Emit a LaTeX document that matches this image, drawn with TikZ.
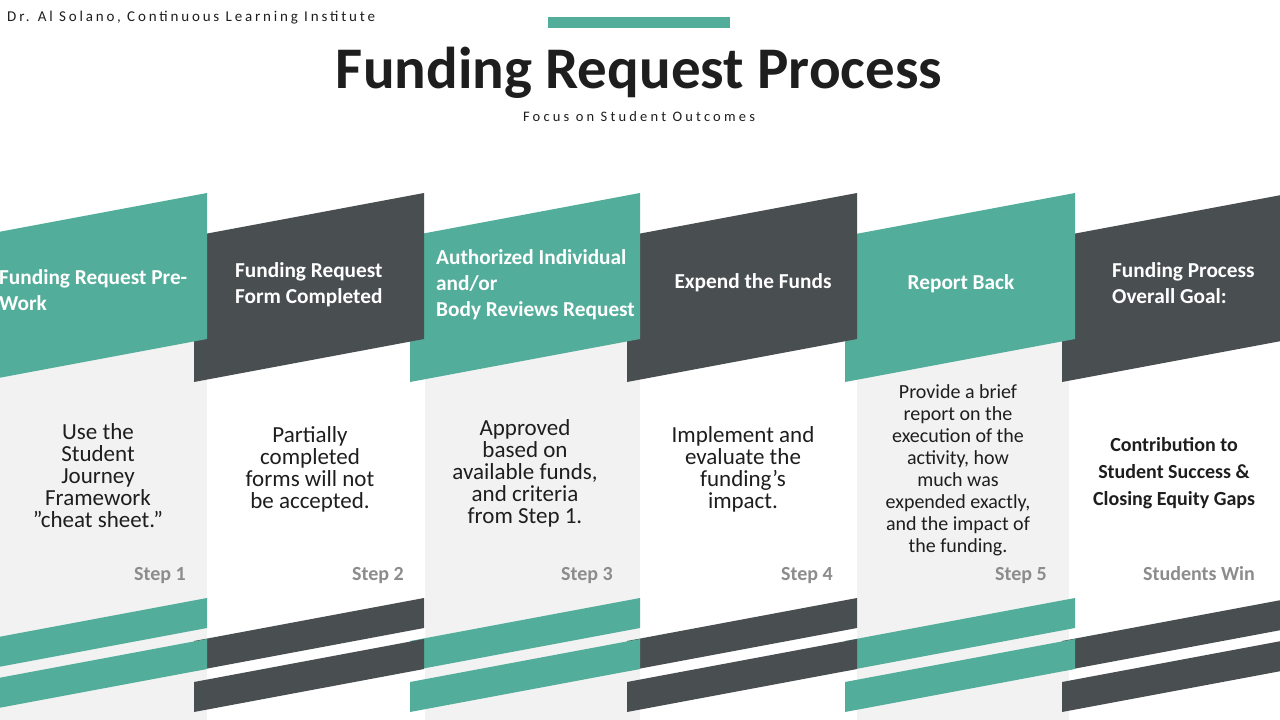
\documentclass[tikz,border=0pt]{standalone}
\usepackage{fontspec}
\setmainfont{Carlito}
\newfontfamily\authorfont[LetterSpace=19]{Carlito}
\newfontfamily\subfont[LetterSpace=22]{Carlito}
\definecolor{tl}{RGB}{83,173,155}
\definecolor{dk}{RGB}{73,78,80}
\definecolor{bgray}{RGB}{242,242,242}
\definecolor{stepgray}{RGB}{140,140,140}
\definecolor{txt}{RGB}{30,30,30}
\newcommand\colshapes[2]{%
  \fill[#2] ({#1-230},236) -- (#1,193) -- (#1,339) -- ({#1-230},382) -- cycle;
  \fill[#2] ({#1-230},641) -- (#1,598) -- (#1,628) -- ({#1-230},671) -- cycle;
  \fill[#2] ({#1-230},682) -- (#1,639) -- (#1,669) -- ({#1-230},712) -- cycle;}
\begin{document}
\begin{tikzpicture}[x=1pt,y=-1pt,
  hdrtext/.style={text=white,font=\bfseries\fontsize{21.3}{26}\selectfont,inner sep=0pt,align=left},
  bodytext/.style={text=txt,font=\fontsize{23}{22}\selectfont,inner sep=0pt,align=center},
  smalltext/.style={text=txt,font=\fontsize{20}{22}\selectfont,inner sep=0pt,align=center},
  goaltext/.style={text=txt,font=\bfseries\fontsize{20}{27}\selectfont,inner sep=0pt,align=center},
  steplabel/.style={text=stepgray,font=\bfseries\fontsize{20}{24}\selectfont,inner sep=0pt,anchor=base east}]
\useasboundingbox (0,0) rectangle (1280,720);
\clip (0,0) rectangle (1280,720);
\fill[white] (0,0) rectangle (1280,720);
% column backgrounds
\fill[bgray] (0,300) rectangle (207,720);
\fill[bgray] (425,300) rectangle (640,720);
\fill[bgray] (857,300) rectangle (1069,720);
% column shapes, right to left
\colshapes{1292}{dk}
\colshapes{1075}{tl}
\colshapes{857}{dk}
\colshapes{640}{tl}
\colshapes{424}{dk}
\colshapes{207}{tl}
% title area
\node[anchor=base west,inner sep=0pt,text=txt] (author) at (7,21) {\authorfont\fontsize{15}{18}\selectfont Dr. Al Solano, Continuous Learning Institute};
\fill[tl] (548,17) rectangle (730,28);
\node[anchor=base,inner sep=0pt,text=txt] (title) at (639,88) {\bfseries\fontsize{59}{61}\selectfont Funding Request Process};
\node[anchor=base,inner sep=0pt,text=txt] (subtitle) at (639,121) {\subfont\fontsize{14.5}{16}\selectfont Focus on Student Outcomes};
% header texts
\node[hdrtext,anchor=west] (h1) at (-1,290) {Funding Request Pre-\\Work};
\node[hdrtext,anchor=west] (h2) at (235,285) {Funding Request\\Form Completed};
\node[hdrtext,anchor=west] (h3) at (436,285) {Authorized Individual\\and/or\\Body Reviews Request};
\node[hdrtext] (h4) at (753,283) {Expend the Funds};
\node[hdrtext] (h5) at (961,284) {Report Back};
\node[hdrtext,anchor=west] (h6) at (1112,283) {Funding Process\\Overall Goal:};
% body texts
\node[bodytext] (b1) at (98,476) {Use the\\Student\\Journey\\Framework\\”cheat sheet.”};
\node[bodytext] (b2) at (310,469) {Partially\\completed\\forms will not\\be accepted.};
\node[bodytext] (b3) at (525,473) {Approved\\based on\\available funds,\\and criteria\\from Step 1.};
\node[bodytext] (b4) at (743,469) {Implement and\\evaluate the\\funding’s\\impact.};
\node[smalltext] (b5) at (958,470) {Provide a brief\\report on the\\execution of the\\activity, how\\much was\\expended exactly,\\and the impact of\\the funding.};
\node[goaltext] (b6) at (1174,473) {Contribution to\\Student Success \&\\Closing Equity Gaps};
% step labels
\node[steplabel] (s1) at (186,580) {Step 1};
\node[steplabel] (s2) at (404,580) {Step 2};
\node[steplabel] (s3) at (613,580) {Step 3};
\node[steplabel] (s4) at (833,580) {Step 4};
\node[steplabel] (s5) at (1047,580) {Step 5};
\node[steplabel] (s6) at (1255,580) {Students Win};
\end{tikzpicture}
\end{document}
